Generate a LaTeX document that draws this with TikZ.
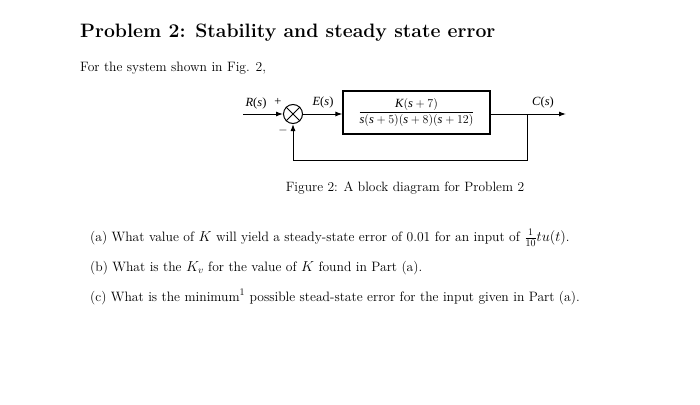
\documentclass[tikz,border=0pt]{standalone}
\usepackage{amsmath}
\usepackage{fontspec}
\usetikzlibrary{arrows.meta}
\newfontfamily\lib{Liberation Serif}
\begin{document}
\begin{tikzpicture}[x=1pt,y=-1pt,
  sig/.style={line width=1pt,-{Latex[length=7pt,width=5pt]}},
  lbl/.style={font=\lib\fontsize{12.5}{15}\selectfont, inner sep=0pt},
  txt/.style={font=\fontsize{13.6}{16}\selectfont, anchor=west, inner sep=0pt}]
\useasboundingbox (0,0) rectangle (700,404);
\node[anchor=west,inner sep=0pt,font=\bfseries\fontsize{19.4}{23}\selectfont] (title) at (80,33) {Problem 2: Stability and steady state error};
\node[txt] (intro) at (80,68) {For the system shown in Fig. 2,};
% diagram
\coordinate (rin) at (243,114);
\node[circle,draw,line width=1pt,minimum size=19pt,inner sep=0pt] (sum) at (293,114) {};
\draw[line width=1pt] (sum.north west) -- (sum.south east) (sum.north east) -- (sum.south west);
\node[draw,line width=1.2pt,minimum width=147pt,minimum height=43pt,inner sep=0pt] (G) at (416.5,112.5)
 {\lib\fontsize{12.5}{15}\selectfont$\dfrac{\textit{K}(\textit{s} + 7)}{\textit{s}(\textit{s} + 5)(\textit{s} + 8)(\textit{s} + 12)}$};
\coordinate (out) at (566,114);
\coordinate (tap) at (527,114);
\coordinate (fb1) at (527,160);
\coordinate (fb2) at (293,160);
\draw[sig] (rin) -- (sum.west);
\draw[sig] (sum.east) -- (G.west |- sum.east);
\draw[sig] (G.east |- out) -- (out);
\draw[sig] (tap) -- (fb1) -- (fb2) -- (sum.south);
\node[lbl] (R) at (256,103) {\textit{R}(\textit{s})};
\node[lbl] (plus) at (278,102) {+};
\node[lbl] (minus) at (283,130) {$-$};
\node[lbl] (E) at (323,102) {\textit{E}(\textit{s})};
\node[lbl] (C) at (543,102) {\textit{C}(\textit{s})};
\node[inner sep=0pt,font=\fontsize{13.5}{16}\selectfont] (cap) at (405,188) {Figure 2: A block diagram for Problem 2};
\node[txt] (qa) at (90,238) {(a) What value of $K$ will yield a steady-state error of 0.01 for an input of $\frac{1}{10}tu(t)$.};
\node[txt] (qb) at (90,268) {(b) What is the $K_v$ for the value of $K$ found in Part (a).};
\node[txt] (qc) at (90,297) {(c) What is the minimum$^1$ possible stead-state error for the input given in Part (a).};
\end{tikzpicture}
\end{document}
